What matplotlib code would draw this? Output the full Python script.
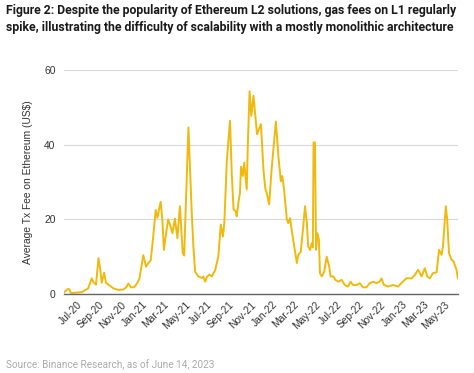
import matplotlib
matplotlib.use("Agg")
import matplotlib.pyplot as plt
import matplotlib.dates as mdates
import pandas as pd

dates = [
    "2020-05-25", "2020-06-04", "2020-06-09", "2020-06-13", "2020-06-20", "2020-07-14",
    "2020-07-23", "2020-08-01", "2020-08-11", "2020-08-15", "2020-08-23", "2020-08-30",
    "2020-09-04", "2020-09-08", "2020-09-15", "2020-09-20", "2020-09-27", "2020-10-11",
    "2020-10-25", "2020-11-08", "2020-11-16", "2020-11-22", "2020-11-29", "2020-12-08",
    "2020-12-16", "2020-12-23", "2021-01-03", "2021-01-11", "2021-01-17", "2021-01-24",
    "2021-01-31", "2021-02-07", "2021-02-12", "2021-02-17", "2021-02-21", "2021-02-26",
    "2021-03-02", "2021-03-07", "2021-03-14", "2021-03-21", "2021-03-26", "2021-04-02",
    "2021-04-09", "2021-04-16", "2021-04-24", "2021-04-28", "2021-05-10", "2021-05-15",
    "2021-05-19", "2021-05-24", "2021-05-29", "2021-06-07", "2021-06-17", "2021-06-21",
    "2021-06-26", "2021-07-01", "2021-07-08", "2021-07-15", "2021-07-19", "2021-07-24",
    "2021-08-02", "2021-08-09", "2021-08-15", "2021-08-19", "2021-08-26", "2021-09-04",
    "2021-09-09", "2021-09-14", "2021-09-20", "2021-09-23", "2021-09-28", "2021-10-02",
    "2021-10-05", "2021-10-10", "2021-10-14", "2021-10-21", "2021-10-24", "2021-10-29",
    "2021-11-03", "2021-11-09", "2021-11-19", "2021-11-30", "2021-12-07", "2021-12-12",
    "2021-12-16", "2021-12-23", "2021-12-30", "2022-01-11", "2022-01-18", "2022-01-25",
    "2022-01-29", "2022-02-03", "2022-02-11", "2022-02-15", "2022-02-20", "2022-02-25",
    "2022-03-03", "2022-03-11", "2022-03-15", "2022-03-22", "2022-03-29", "2022-04-03",
    "2022-04-08", "2022-04-12", "2022-04-17", "2022-04-22", "2022-04-25", "2022-04-27",
    "2022-05-01", "2022-05-04", "2022-05-08", "2022-05-12", "2022-05-15", "2022-05-20",
    "2022-05-27", "2022-06-03", "2022-06-10", "2022-06-14", "2022-06-22", "2022-06-27",
    "2022-07-06", "2022-07-15", "2022-07-24", "2022-08-02", "2022-08-09", "2022-08-16",
    "2022-08-26", "2022-09-04", "2022-09-13", "2022-09-23", "2022-10-02", "2022-10-12",
    "2022-10-21", "2022-10-30", "2022-11-04", "2022-11-11", "2022-11-23", "2022-12-07",
    "2022-12-21", "2022-12-30", "2023-01-13", "2023-01-28", "2023-02-06", "2023-02-15",
    "2023-02-25", "2023-03-06", "2023-03-13", "2023-03-20", "2023-03-29", "2023-04-08",
    "2023-04-15", "2023-04-22", "2023-04-26", "2023-05-04", "2023-05-08", "2023-05-13",
    "2023-05-20", "2023-05-26", "2023-06-03", "2023-06-07",
]
fees = [
    0.4, 1.3, 1.3, 0.3, 0.3, 0.5,
    1.0, 1.5, 4.2, 3.3, 2.5, 9.6,
    6.6, 3.0, 5.7, 3.0, 2.5, 1.5,
    1.1, 1.2, 1.8, 2.8, 1.8, 1.8,
    2.8, 4.0, 10.4, 7.3, 8.3, 9.0,
    15.4, 22.5, 20.4, 23.0, 24.7, 19.5,
    11.8, 15.4, 20.0, 18.0, 16.3, 20.2,
    15.0, 23.5, 11.0, 10.3, 44.6, 32.5,
    22.6, 12.7, 6.0, 4.7, 4.3, 4.7,
    3.3, 4.6, 5.2, 4.7, 5.5, 6.3,
    10.0, 18.6, 15.4, 19.0, 35.6, 46.4,
    32.0, 22.6, 22.2, 20.8, 24.8, 27.1,
    34.1, 31.6, 35.2, 28.0, 39.6, 54.3,
    47.7, 53.1, 42.8, 45.5, 33.4, 28.4,
    27.1, 24.0, 33.4, 46.2, 37.0, 30.2,
    31.6, 28.0, 19.9, 19.0, 20.3, 16.8,
    13.2, 8.3, 10.5, 11.3, 18.1, 23.5,
    19.3, 12.7, 11.8, 13.6, 12.5, 40.6,
    40.6, 11.8, 16.3, 14.5, 5.6, 4.7,
    6.0, 10.0, 7.3, 4.7, 4.7, 3.8,
    3.3, 3.8, 2.4, 2.0, 3.3, 2.4,
    2.4, 2.9, 1.8, 1.8, 2.9, 3.3,
    2.9, 3.3, 4.2, 2.4, 2.0, 2.4,
    2.0, 2.9, 4.2, 4.2, 5.1, 6.5,
    4.7, 6.9, 4.7, 4.2, 5.6, 5.8,
    11.8, 10.5, 12.7, 23.5, 19.9, 11.0,
    9.2, 8.7, 6.5, 4.2,
]
y_ticks = [0, 20, 40, 60]
title = ("Figure 2: Despite the popularity of Ethereum L2 solutions, gas fees on L1 regularly\n"
         "spike, illustrating the difficulty of scalability with a mostly monolithic architecture")
y_label = "Average Tx Fee on Ethereum (US$)"
source = "Source: Binance Research, as of June 14, 2023"

x = pd.to_datetime(dates)

plt.rcParams['font.family'] = ['Liberation Sans', 'DejaVu Sans']

fig = plt.figure(figsize=(4.74, 3.73), dpi=100)
ax = fig.add_axes([0.135, 0.2118, 0.831, 0.6005])

ax.plot(x, fees, color="#F0B90B", lw=1.4, solid_joinstyle="round")

ax.set_ylim(0, 60)
ax.set_yticks(y_ticks)
ax.set_xlim(x[0], x[-1])
ax.grid(axis="y", color="#d9d9d9", lw=0.8)
ax.set_axisbelow(True)
for s in ["top", "right", "left"]:
    ax.spines[s].set_visible(False)
ax.spines["bottom"].set_color("#666666")
ax.spines["bottom"].set_linewidth(1.0)

ax.xaxis.set_major_locator(mdates.MonthLocator(bymonth=[1, 3, 5, 7, 9, 11]))
ax.xaxis.set_major_formatter(mdates.DateFormatter("%b-%y"))
ax.tick_params(axis="both", length=0, labelsize=7.4, labelcolor="#333333")
ax.tick_params(axis="y", pad=6)
ax.tick_params(axis="x", pad=4)
for lab in ax.get_xticklabels():
    lab.set_rotation(45)
    lab.set_ha("right")
    lab.set_rotation_mode("anchor")

ax.set_ylabel(y_label, fontsize=7.4, color="#333333", labelpad=8)

fig.text(0.013, 0.988, title, fontsize=8.8, fontweight="bold", color="#1a1a1a",
         va="top", ha="left", linespacing=1.35, family=['Roboto', 'DejaVu Sans'])
fig.text(0.013, 0.008, source, fontsize=7.2, color="#aaaaaa", va="bottom", ha="left",
         family=['Roboto', 'DejaVu Sans'])

fig.savefig("out.png", dpi=100)
